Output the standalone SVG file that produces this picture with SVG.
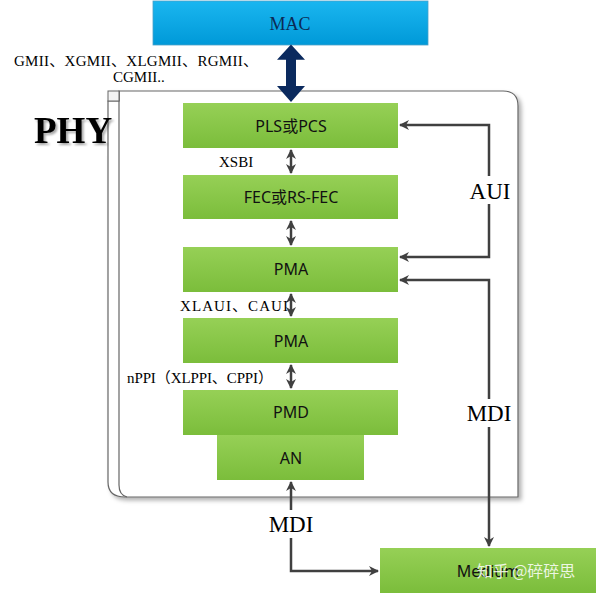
<svg xmlns="http://www.w3.org/2000/svg" width="598" height="596" viewBox="0 0 598 596">
<defs>
<linearGradient id="g" x1="0" y1="0" x2="0" y2="1"><stop offset="0" stop-color="#96D056"/><stop offset="1" stop-color="#7BBD3B"/></linearGradient>
<linearGradient id="b" x1="0" y1="0" x2="0" y2="1"><stop offset="0" stop-color="#1AB6F0"/><stop offset="1" stop-color="#0099D8"/></linearGradient>
<marker id="ah" viewBox="0 0 10 10" refX="9" refY="5" markerWidth="4" markerHeight="4" orient="auto-start-reverse"><path d="M0,0 L10,5 L0,10 L3,5 z" fill="#404040"/></marker>
<filter id="sh" x="-5%" y="-5%" width="110%" height="110%"><feDropShadow dx="3" dy="3" stdDeviation="2" flood-color="#000" flood-opacity="0.3"/></filter>
<filter id="tsh" x="-10%" y="-10%" width="130%" height="130%"><feDropShadow dx="2" dy="2" stdDeviation="1" flood-color="#000" flood-opacity="0.35"/></filter>
</defs>
<style>
.box{fill:url(#g)}
.lbl{font-family:"Noto Sans","Noto Sans CJK SC",sans-serif;font-size:16px;fill:#111;text-anchor:middle}
.ser{font-family:"Liberation Serif","Noto Sans CJK SC",serif;font-size:15px;fill:#000}
.big{font-family:"Liberation Serif",serif;font-size:23px;fill:#000;text-anchor:middle}
.ln{fill:none;stroke:#404040;stroke-width:2.5}
</style>
<rect width="598" height="596" fill="#fff"/>
<g id="phy-frame" filter="url(#sh)">
<path d="M119,91 H503 Q518,91 518,106 V497 H125 Q108,497 108,482 V101 H119 Z" fill="#fff" stroke="#666" stroke-width="1.2"/>
<path d="M119,91 V485 Q119,495 127,497" fill="none" stroke="#666" stroke-width="1.2"/>
<rect x="108" y="91" width="11" height="10" fill="#f4f4f4" stroke="#666" stroke-width="1"/>
</g>
<g id="phy-label">
<rect x="30" y="102" width="77" height="54" fill="#fff"/>
<text x="34" y="143" font-family="Liberation Serif,serif" font-size="37" font-weight="bold" fill="#000" filter="url(#tsh)">PHY</text>
</g>
<g id="mac"><rect x="153" y="1" width="275" height="44" fill="url(#b)" stroke="#4aa0c8" stroke-width="0.8"/><text x="290" y="30" font-family="Liberation Serif,serif" font-size="18" fill="#0b2a55" text-anchor="middle">MAC</text></g>
<g id="pls"><rect class="box" x="183" y="103" width="215" height="45"/><text class="lbl" x="291" y="132">PLS或PCS</text></g>
<g id="fec"><rect class="box" x="183" y="175" width="215" height="44"/><text class="lbl" x="291" y="203">FEC或RS-FEC</text></g>
<g id="pma1"><rect class="box" x="183" y="247" width="215" height="45"/><text class="lbl" x="291" y="275">PMA</text></g>
<g id="pma2"><rect class="box" x="183" y="318" width="215" height="45"/><text class="lbl" x="291" y="347">PMA</text></g>
<g id="pmd"><rect class="box" x="183" y="390" width="215" height="45"/><text class="lbl" x="291" y="418">PMD</text></g>
<g id="an"><rect class="box" x="217" y="435" width="147" height="45"/><text class="lbl" x="291" y="464">AN</text></g>
<g id="medium"><rect class="box" x="380" y="548" width="216" height="45"/><text class="lbl" x="488" y="577" font-size="16">Medium</text><text x="526" y="577" font-family="Noto Sans CJK SC,sans-serif" font-size="16" fill="#fff" fill-opacity="0.85" text-anchor="middle">知乎 @碎碎思</text></g>
<g id="connectors">
<path d="M291,40 L305,56 H296 V84 H305 L291,101 L277,84 H286 V56 H277 Z" fill="#0b2a5e" transform="translate(0,7) scale(1,0.94)"/>
<line class="ln" x1="291" y1="150" x2="291" y2="173" marker-start="url(#ah)" marker-end="url(#ah)"/>
<line class="ln" x1="291" y1="221" x2="291" y2="245" marker-start="url(#ah)" marker-end="url(#ah)"/>
<line class="ln" x1="291" y1="294" x2="291" y2="316" marker-start="url(#ah)" marker-end="url(#ah)"/>
<line class="ln" x1="291" y1="365" x2="291" y2="388" marker-start="url(#ah)" marker-end="url(#ah)"/>
<path class="ln" d="M400,125 H489 V257 H400" marker-start="url(#ah)" marker-end="url(#ah)"/>
<path class="ln" d="M400,280 H489 V546" marker-start="url(#ah)" marker-end="url(#ah)"/>
<path class="ln" d="M291,482 V571 H378" marker-start="url(#ah)" marker-end="url(#ah)"/>
</g>
<g id="labels">
<text class="ser" x="14" y="66" textLength="244" lengthAdjust="spacing">GMII、XGMII、XLGMII、RGMII、</text>
<text class="ser" x="113" y="82">CGMII..</text>
<text class="ser" x="219" y="167">XSBI</text>
<text class="ser" x="180" y="311" textLength="108" lengthAdjust="spacing">XLAUI、CAUI</text>
<text class="ser" x="127" y="383" textLength="146" lengthAdjust="spacing">nPPI（XLPPI、CPPI）</text>
<rect x="467" y="176" width="46" height="28" fill="#fff"/>
<text class="big" x="490" y="199">AUI</text>
<rect x="464" y="399" width="50" height="28" fill="#fff"/>
<text class="big" x="489" y="421">MDI</text>
<rect x="266" y="510" width="50" height="28" fill="#fff"/>
<text class="big" x="291" y="532">MDI</text>
</g>
</svg>
